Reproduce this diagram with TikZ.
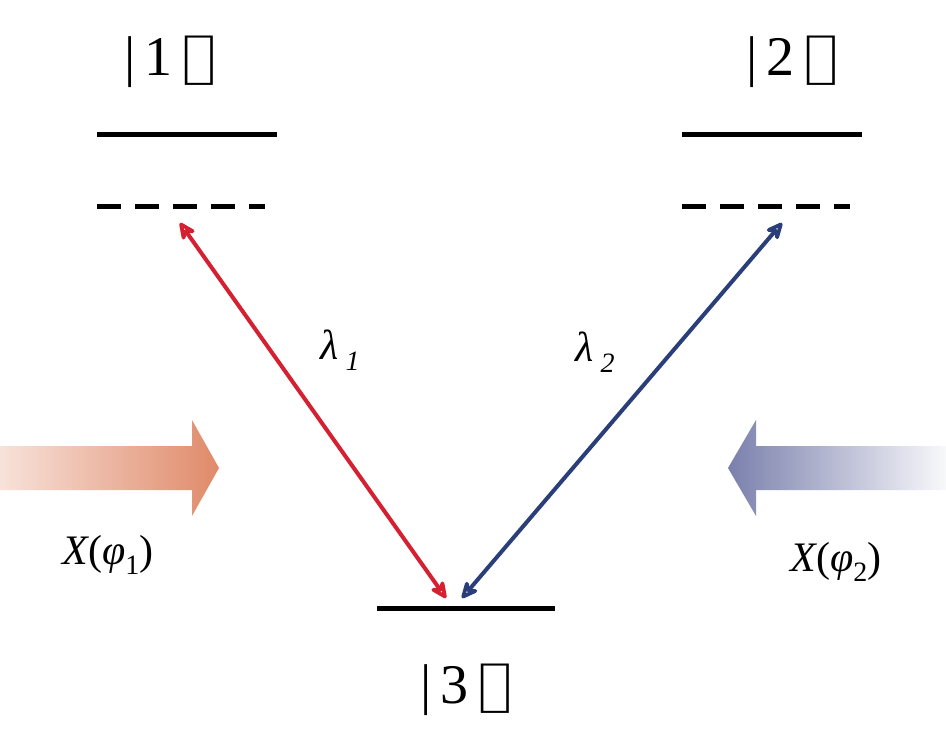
\documentclass[tikz,border=0pt]{standalone}
\usepackage{fontspec}
\setmainfont{Liberation Serif}
\newfontfamily\djv{DejaVu Sans ExtraLight}
\usetikzlibrary{arrows.meta}
\definecolor{rd}{HTML}{D42030}
\definecolor{bl}{HTML}{2A3F7A}
\definecolor{salm}{HTML}{E08A6A}
\definecolor{bgr}{HTML}{7A80AC}
\newcommand{\ketx}[1]{|\,#1\,{\djv ⟩}}
\newcommand{\subx}[1]{\raisebox{-0.25em}{\fontsize{28}{30}\selectfont #1}}
\tikzset{lvl/.style={line width=5pt,black},
 dlvl/.style={line width=5pt,black,dash pattern=on 24pt off 14pt},
 tr/.style={line width=4pt,{Stealth[length=22pt,width=20pt,open,round]}-{Stealth[length=22pt,width=20pt,open,round]}},
 lbl/.style={font=\fontsize{56}{62}\selectfont},
 sm/.style={font=\fontsize{42}{48}\selectfont}}
\begin{document}
\begin{tikzpicture}[x=1pt,y=-1pt]
\useasboundingbox (0,0) rectangle (946,746);
\draw[lvl] (97,135) -- (277,135);
\draw[dlvl] (97,207) -- (265,207);
\draw[lvl] (682,135) -- (862,135);
\draw[dlvl] (682,207) -- (850,207);
\draw[lvl] (377,608) -- (555,608);
\coordinate (a1) at (180,223);
\coordinate (a2) at (782,223);
\coordinate (b1) at (446,598);
\coordinate (b2) at (462,598);
\draw[tr,rd] (a1) -- (b1);
\draw[tr,bl] (a2) -- (b2);
\node[lbl] (k1) at (170,62) {\ketx{1}};
\node[lbl] (k2) at (792,62) {\ketx{2}};
\node[lbl] (k3) at (466,690) {\ketx{3}};
\node[sm] (l1) at (340,350) {\itshape λ\,\subx{1}};
\node[sm] (l2) at (595,352) {\itshape λ\,\subx{2}};
\shade[left color=salm!25,right color=salm] (0,446) -- (192,446) -- (192,420) -- (219,468) -- (192,516) -- (192,490) -- (0,490) -- cycle;
\shade[left color=bgr,right color=bgr!5] (946,446) -- (756,446) -- (756,420) -- (728,468) -- (756,516) -- (756,490) -- (946,490) -- cycle;
\node[sm] (x1) at (108,555) {\itshape X\upshape(\itshape φ\upshape\subx{1})};
\node[sm] (x2) at (836,562) {\itshape X\upshape(\itshape φ\upshape\subx{2})};
\end{tikzpicture}
\end{document}
